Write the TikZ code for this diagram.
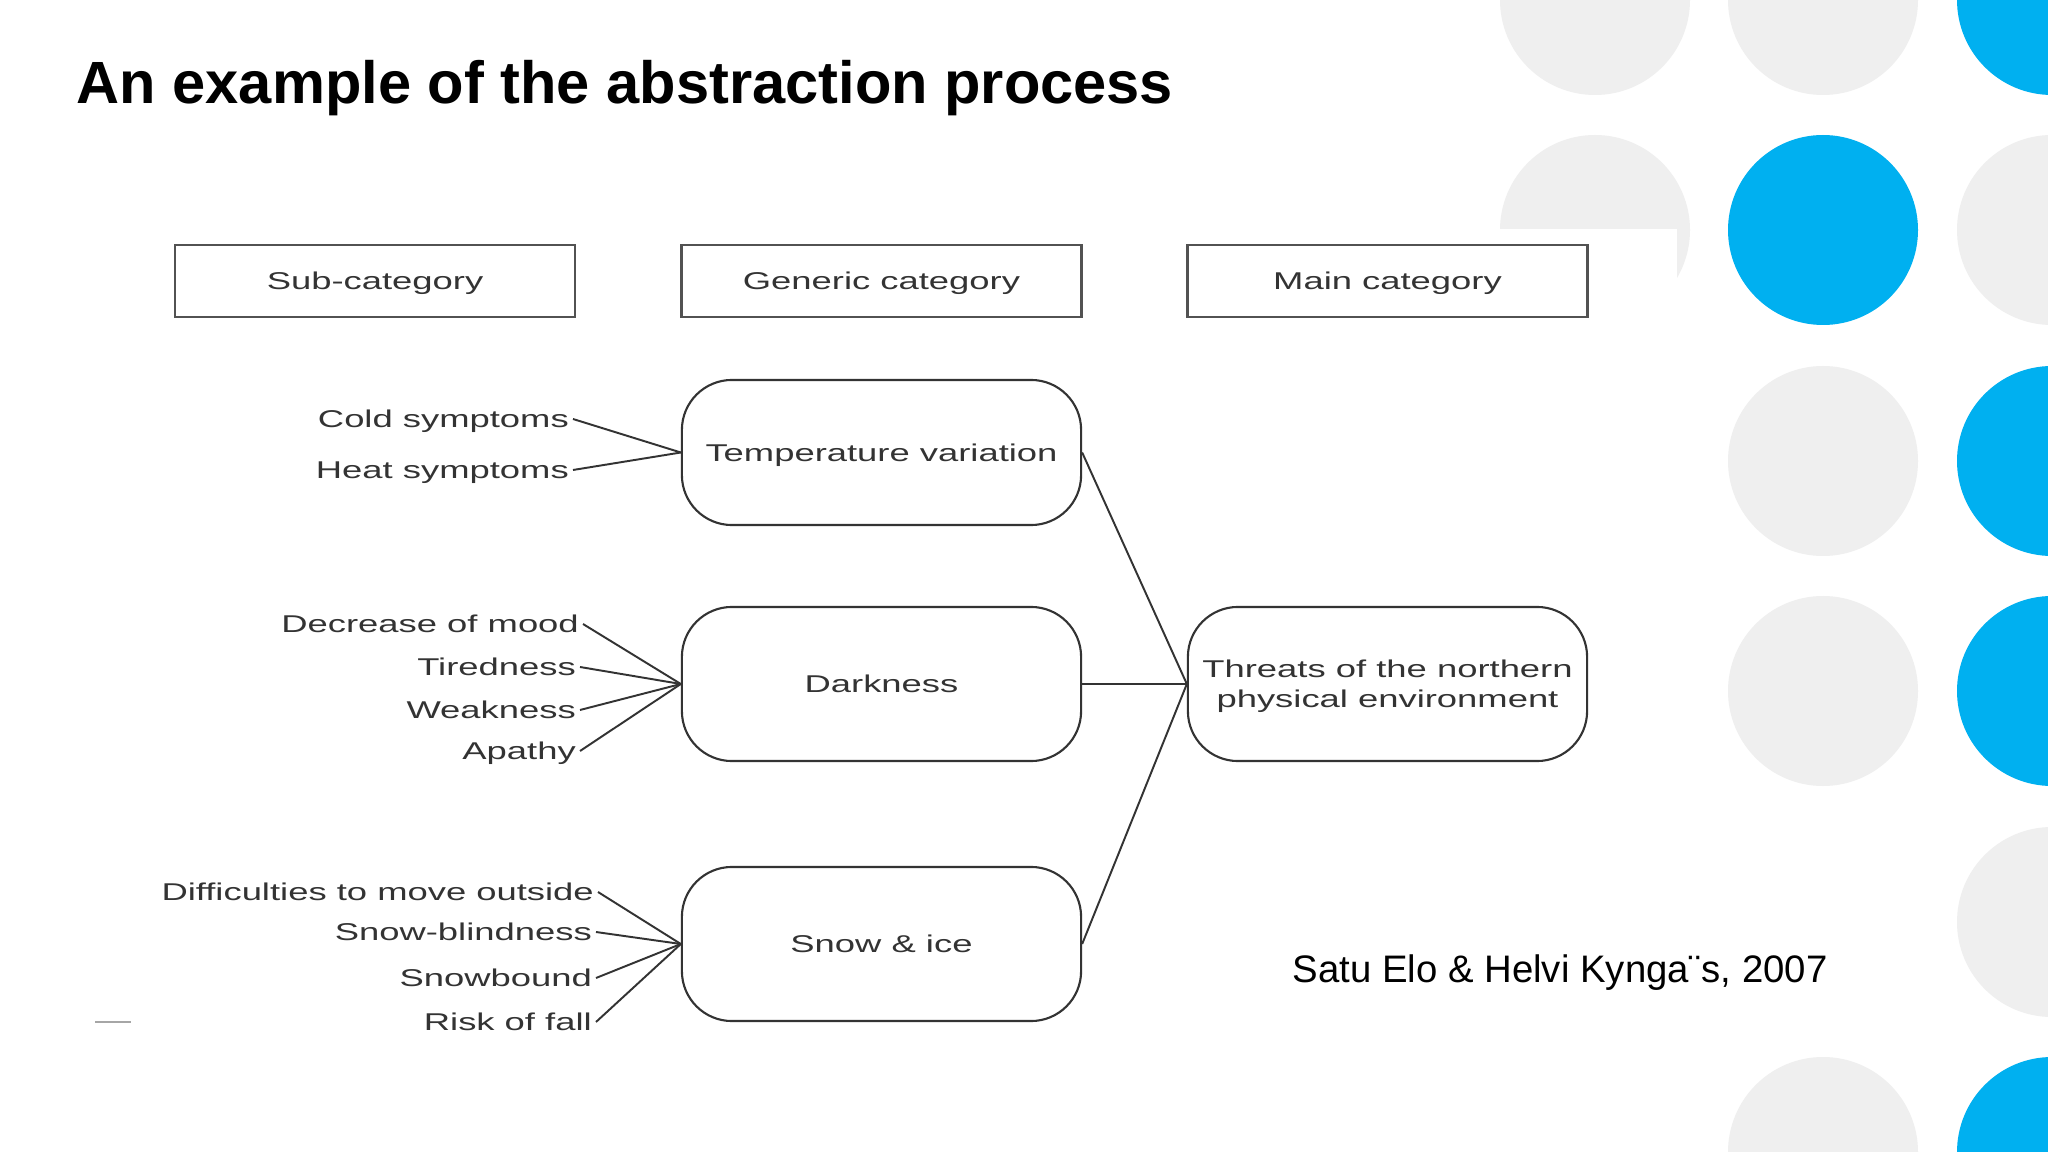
\documentclass[tikz,border=0pt]{standalone}
\usepackage{fontspec}
\setmainfont{Liberation Sans}
\newfontfamily\figfont[FakeStretch=1.5]{Liberation Sans}
\usetikzlibrary{positioning}
\definecolor{dotblue}{HTML}{00B0F0}
\definecolor{dotgray}{HTML}{EFEFEF}
\definecolor{figink}{HTML}{333333}

\begin{document}
\begin{tikzpicture}[
    x=0.01cm, y=-0.01cm,
    every node/.style={font=\figfont\fontsize{6.9}{8.5}\selectfont, text=figink,
                       text depth=0pt},
    hbox/.style={draw=figink!85, line width=0.7pt, minimum width=4cm,
                 minimum height=0.72cm, inner sep=0pt},
    cbox/.style={draw=figink, line width=0.6pt, rounded corners=0.5cm,
                 minimum width=3.99cm, align=center},
    lbl/.style={anchor=east, inner sep=1pt},
    link/.style={draw=figink, line width=0.55pt},
  ]
  \useasboundingbox[fill=white] (0,0) rectangle (2048,1152);
  \clip (0,0) rectangle (2048,1152);

  % dots on the right
  \fill[dotgray] (1595,0) circle (95);
  \fill[dotgray] (1595,230) circle (95);
  \fill[dotgray] (1823,0) circle (95);
  \fill[dotblue] (1823,230) circle (95);
  \fill[dotgray] (1823,461) circle (95);
  \fill[dotgray] (1823,691) circle (95);
  \fill[dotgray] (1823,1152) circle (95);
  \fill[dotblue] (2052,0) circle (95);
  \fill[dotgray] (2052,230) circle (95);
  \fill[dotblue] (2052,461) circle (95);
  \fill[dotblue] (2052,691) circle (95);
  \fill[dotgray] (2052,922) circle (95);
  \fill[dotblue] (2052,1152) circle (95);
  \fill[white] (150,229) rectangle (1677,1060);

  \node[anchor=base west, inner sep=0pt, text=black,
        font=\bfseries\fontsize{16.95}{20}\selectfont] (title) at (76,104)
    {An example of the abstraction process};

  % column headers
  \node[hbox] (subhd)  at (375,281)    {Sub-category};
  \node[hbox] (genhd)  at (881.5,281)  {Generic category};
  \node[hbox] (mainhd) at (1387.5,281) {Main category};

  % generic and main categories
  \node[cbox, minimum height=1.45cm] (temp)    at (881.5,452.5) {Temperature variation};
  \node[cbox, minimum height=1.54cm] (dark)    at (881.5,684)   {Darkness};
  \node[cbox, minimum height=1.54cm] (snow)    at (881.5,944)   {Snow \& ice};
  \node[cbox, minimum height=1.54cm] (threats) at (1387.5,684)
    {Threats of the northern\\physical environment};

  % sub-categories
  \node[lbl] (cold)  at (573,419)  {Cold symptoms};
  \node[lbl] (heat)  at (573,470)  {Heat symptoms};
  \node[lbl] (mood)  at (583,624)  {Decrease of mood};
  \node[lbl] (tired) at (580,667)  {Tiredness};
  \node[lbl] (weak)  at (580,710)  {Weakness};
  \node[lbl] (apat)  at (580,751)  {Apathy};
  \node[lbl] (move)  at (598,892)  {Difficulties to move outside};
  \node[lbl] (blind) at (596,932)  {Snow-blindness};
  \node[lbl] (bound) at (596,978)  {Snowbound};
  \node[lbl] (fall)  at (596,1022) {Risk of fall};

  \draw[link] (cold.east) -- (temp.west);
  \draw[link] (heat.east) -- (temp.west);
  \draw[link] (mood.east) -- (dark.west);
  \draw[link] (tired.east) -- (dark.west);
  \draw[link] (weak.east) -- (dark.west);
  \draw[link] (apat.east) -- (dark.west);
  \draw[link] (move.east) -- (snow.west);
  \draw[link] (blind.east) -- (snow.west);
  \draw[link] (bound.east) -- (snow.west);
  \draw[link] (fall.east) -- (snow.west);

  \draw[link] (temp.east) -- (threats.west);
  \draw[link] (dark.east) -- (threats.west);
  \draw[link] (snow.east) -- (threats.west);

  \draw[gray!70, line width=0.8pt] (95,1022) -- (131,1022);

  \node[anchor=base west, inner sep=0pt, text=black,
        font=\fontsize{10.9}{13}\selectfont] (cite) at (1292,982)
    {Satu Elo \& Helvi Kynga¨s, 2007};
\end{tikzpicture}
\end{document}
